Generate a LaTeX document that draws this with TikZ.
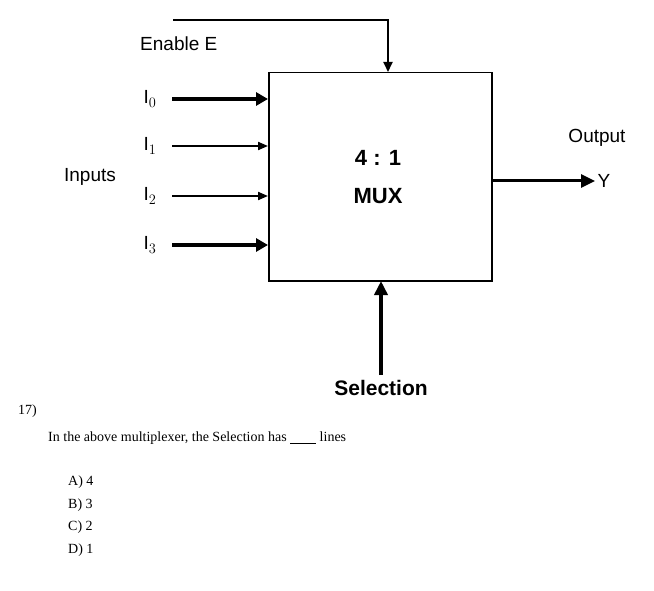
\documentclass[tikz,border=0pt]{standalone}
\usepackage{fontspec}
\setmainfont{Liberation Serif}
\newfontfamily\dsans{Liberation Sans}
\usetikzlibrary{arrows.meta}
\begin{document}
\begin{tikzpicture}[x=1pt,y=-1pt,
  lab/.style={font=\dsans\fontsize{19}{22}\selectfont, inner sep=0pt},
  q/.style={font=\fontsize{14}{16}\selectfont, inner sep=0pt, anchor=west},
  thk/.style={line width=3.5pt,-{Triangle[length=12pt,width=13pt]}},
  thn/.style={line width=2pt,-{Triangle[length=10pt,width=8pt]}}]
\useasboundingbox (0,0) rectangle (654,591);
\node[draw,line width=1.5pt,minimum width=223pt,minimum height=208pt,anchor=north west,inner sep=0pt] (mux) at (268,72) {};
\node[lab,font=\dsans\bfseries\fontsize{22}{26}\selectfont] (t1) at (378,158) {4 : 1};
\node[lab,font=\dsans\bfseries\fontsize{22}{26}\selectfont] (t2) at (378,196) {MUX};
\node[lab,anchor=west] (en) at (140,44) {Enable E};
\coordinate (e0) at (173,20); \coordinate (e1) at (388,20); \coordinate (e2) at (388,72);
\draw[line width=2pt,-{Triangle[length=10pt,width=9pt]}] (e0) -- (e1) -- (e2);
\node[lab] (inp) at (90,177) {Inputs};
\node[lab] (l0) at (150,99) {I$_0$};
\node[lab] (l1) at (150,146) {I$_1$};
\node[lab] (l2) at (150,196) {I$_2$};
\node[lab] (l3) at (150,245) {I$_3$};
\coordinate (s0) at (172,99); \coordinate (s1) at (172,146); \coordinate (s2) at (172,196); \coordinate (s3) at (172,245);
\coordinate (d0) at (268,99); \coordinate (d1) at (268,146); \coordinate (d2) at (268,196); \coordinate (d3) at (268,245);
\draw[thk] (s0) -- (d0);
\draw[thn] (s1) -- (d1);
\draw[thn] (s2) -- (d2);
\draw[thk] (s3) -- (d3);
\coordinate (o0) at (491,181); \coordinate (o1) at (595,181);
\draw[line width=3pt,-{Triangle[length=14pt,width=13pt]}] (o0) -- (o1);
\node[lab] (out) at (597,138) {Output};
\node[lab] (y) at (604,181) {Y};
\coordinate (c0) at (381,375); \coordinate (c1) at (381,281);
\draw[line width=3.5pt,-{Triangle[length=14pt,width=13pt]}] (c0) -- (c1);
\node[lab,font=\dsans\bfseries\fontsize{21}{24}\selectfont] (sel) at (381,388) {Selection};
\node[q] (n) at (18,411) {17)};
\node[q] (qt) at (48,438) {In the above multiplexer, the Selection has \underline{\hspace{26pt}} lines};
\node[q] (a) at (68,482) {A) 4};
\node[q] (b) at (68,505) {B) 3};
\node[q] (c) at (68,527) {C) 2};
\node[q] (d) at (68,550) {D) 1};
\end{tikzpicture}
\end{document}
